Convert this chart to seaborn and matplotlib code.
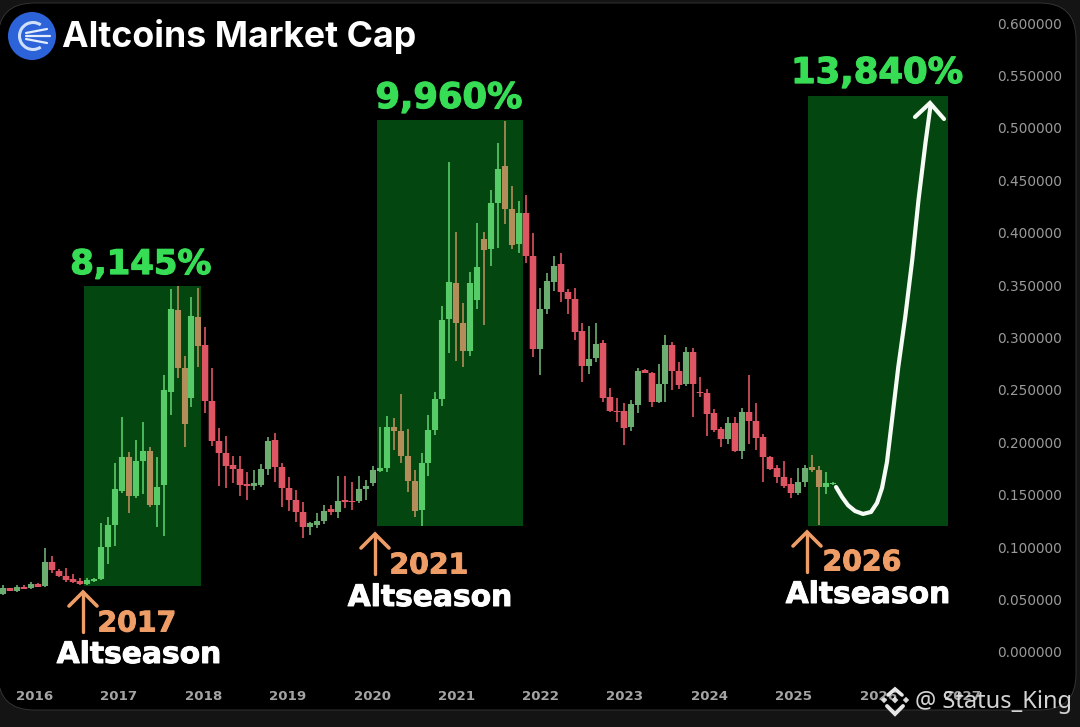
import numpy as np
import pandas as pd
import matplotlib
matplotlib.use("Agg")
import matplotlib.pyplot as plt
import matplotlib.patheffects as pe
from matplotlib.patches import Rectangle, Circle, FancyBboxPatch, Polygon, Arc
import seaborn as sns

# ---- data ----
opens = [
 .0553,.0607,.0582,.0623,.0607,.0652,.0630,.0855,.0776,.0728,
 .0693,.0677,.0649,.0677,.0693,.1005,.1212,.1539,.1863,.1488,
 .1822,.1921,.1402,.1593,.2484,.3263,.2706,.2420,.3199,.2929,
 .2395,.2013,.1895,.1784,.1743,.1600,.1584,.1593,.1743,.2022,
 .1768,.1561,.1450,.1339,.1189,.1215,.1253,.1367,.1336,.1450,
 .1441,.1441,.1555,.1615,.1727,.1752,.2150,.2112,.1873,.1631,
 .1355,.1800,.2118,.2414,.3174,.3517,.3135,.2872,.3358,.3937,
 .3845,.4287,.4636,.4229,.3889,.4191,.3778,.2894,.3269,.3533,
 .3698,.3431,.3368,.3062,.2732,.2802,.2945,.2430,.2302,.2302,
 .2143,.2356,.2690,.2665,.2388,.2557,.2932,.2684,.2557,.2859,
 .2477,.2474,.2277,.2124,.2032,.2188,.1921,.2293,.2207,.2054,
 .1863,.1752,.1673,.1600,.1514,.1625,.1762,.1736,.1577,.1606]
closes = [
 .0607,.0585,.0623,.0604,.0652,.0623,.0855,.0782,.0728,.0687,
 .0671,.0646,.0687,.0700,.0999,.1212,.1552,.1863,.1488,.1822,
 .1921,.1402,.1577,.2499,.3269,.2706,.2172,.3205,.2919,.2395,
 .2013,.1895,.1774,.1743,.1593,.1587,.1609,.1743,.2016,.1768,
 .1561,.1450,.1339,.1196,.1227,.1253,.1348,.1339,.1437,.1428,
 .1431,.1555,.1587,.1736,.1759,.2150,.2108,.1873,.1631,.1345,
 .1800,.2118,.2414,.3167,.3527,.3135,.2872,.3517,.3676,.3835,
 .4280,.4608,.4229,.3883,.4191,.3781,.2887,.3269,.3539,.3686,
 .3438,.3364,.3056,.2732,.2795,.2935,.2420,.2299,.2290,.2134,
 .2363,.2684,.2665,.2388,.2557,.2932,.2681,.2547,.2859,.2554,
 .2468,.2271,.2118,.2032,.2181,.1921,.2286,.2207,.2045,.1857,
 .1746,.1673,.1587,.1514,.1622,.1759,.1733,.1571,.1615,.1612]
highs = [
 .0639,.0614,.0636,.0639,.0668,.0661,.0995,.0916,.0789,.0798,
 .0744,.0703,.0703,.0706,.1227,.1285,.1806,.2239,.1911,.2022,
 .2197,.1959,.1863,.2643,.3460,.3492,.2824,.3384,.3476,.3097,
 .2706,.2134,.2061,.1870,.1870,.1720,.1736,.1790,.2054,.2086,
 .1806,.1666,.1545,.1434,.1243,.1323,.1402,.1399,.1682,.1679,
 .1619,.1679,.1641,.1774,.2150,.2251,.2229,.2461,.2124,.1736,
 .1895,.2261,.2484,.3304,.4678,.4010,.3326,.3628,.4089,.4004,
 .4407,.4859,.5069,.4449,.4303,.4360,.3994,.3469,.3612,.3781,
 .3810,.3463,.3476,.3135,.3110,.3142,.2976,.2515,.2420,.2372,
 .2404,.2706,.2697,.2674,.2748,.3024,.2961,.2770,.2913,.2897,
 .2620,.2506,.2318,.2150,.2239,.2239,.2325,.2643,.2372,.2077,
 .1870,.1784,.1825,.1657,.1752,.1784,.1879,.1774,.1714,.1625]
lows = [
 .0544,.0579,.0576,.0598,.0598,.0617,.0623,.0750,.0719,.0671,
 .0661,.0636,.0639,.0671,.0687,.0836,.1014,.1514,.1323,.1472,
 .1507,.1386,.1189,.1110,.2261,.2611,.1953,.2334,.2722,.2277,
 .1968,.1587,.1561,.1609,.1488,.1450,.1545,.1577,.1689,.1625,
 .1380,.1348,.1243,.1091,.1116,.1180,.1221,.1307,.1282,.1371,
 .1355,.1418,.1450,.1584,.1720,.1720,.1927,.1800,.1530,.1285,
 .1205,.1679,.2070,.2350,.2856,.2779,.2716,.2824,.3269,.3120,
 .3686,.3851,.4083,.3841,.3810,.3708,.2817,.2643,.3225,.3447,
 .3342,.3225,.2976,.2579,.2652,.2763,.2388,.2293,.2197,.1975,
 .2112,.2277,.2658,.2334,.2372,.2388,.2499,.2509,.2541,.2239,
 .2430,.2061,.2102,.1959,.1984,.1911,.1841,.1984,.1927,.1625,
 .1736,.1609,.1561,.1472,.1498,.1577,.1720,.1212,.1507,.1593]

year_labels = ["2016","2017","2018","2019","2020","2021","2022","2023","2024","2025","2026","2027"]
year_positions = [4.5,16.6,28.7,40.8,52.9,65.0,77.1,89.2,101.3,113.4,125.5,137.6]
price_ticks = [0.0,0.05,0.10,0.15,0.20,0.25,0.30,0.35,0.40,0.45,0.50,0.55,0.60]

zone_starts = [11.58,53.6,115.45]
zone_ends   = [28.36,74.56,135.5]
zone_lows   = [.0630,.1202,.1202]
zone_highs  = [.3492,.5076,.5305]
gain_labels = ["8,145%","9,960%","13,840%"]
season_labels = ["2017","2021","2026"]

proj_x = [119.47,120.33,121.19,122.19,123.34,124.49,125.35,126.07,126.78,127.5,128.4,129.4,130.4,131.3,132.3,133.0]
proj_y = [.1574,.1479,.1400,.1345,.1317,.1336,.1422,.1565,.1813,.2214,.2719,.3197,.3740,.4313,.4857,.5200]

W, H = 1080, 727
sns.set_theme(style="dark", rc={"axes.grid": False})
plt.rcParams["font.family"] = ["DejaVu Sans"]
fig = plt.figure(figsize=(W/100, H/100), dpi=100, facecolor="#141414")

# rounded dark panel behind the chart
bg = fig.add_axes([0, 0, 1, 1], zorder=-1)
bg.set_xlim(0, W); bg.set_ylim(H, 0); bg.axis("off")
bg.add_patch(FancyBboxPatch((-2, 3), 1078, 707, boxstyle="round,pad=0,rounding_size=36",
                            fc="#000000", ec="#3a3a3a", lw=0.6))

ax = fig.add_axes([0, 0, 1, 1], zorder=1)
ax.patch.set_alpha(0)
for s in ax.spines.values():
    s.set_visible(False)

# scales: one candle per month
ax.set_xlim(-0.473, 154.47)
ax.set_ylim(-0.0716, 0.6221)

for x0, x1, y0, y1 in zip(zone_starts, zone_ends, zone_lows, zone_highs):
    ax.add_patch(Rectangle((x0, y0), x1-x0, y1-y0, fc="#04460f", ec="none", zorder=0.5))

TONES = {"up_zone": "#57cb68", "down_zone": "#b48e5a", "up": "#6cae72", "down": "#de5563"}
def tone(i):
    inzone = any(a <= i <= b for a, b in zip(zone_starts, zone_ends))
    rising = closes[i] >= opens[i]
    return ("up" if rising else "down") + ("_zone" if inzone else "")

wick_rows, body_rows = [], []
for i in range(len(opens)):
    t = tone(i)
    wick_rows += [(i, highs[i], i, t), (i, lows[i], i, t)]
    body_rows += [(i, opens[i], i, t), (i, closes[i], i, t)]
cols = ["month", "price", "candle", "tone"]
wicks = pd.DataFrame(wick_rows, columns=cols)
bodies = pd.DataFrame(body_rows, columns=cols)

common = dict(x="month", y="price", hue="tone", palette=TONES, units="candle",
              estimator=None, legend=False, ax=ax, solid_capstyle="butt")
# soft red halo around falling candles
sns.lineplot(data=bodies[bodies["tone"] == "down"], linewidth=6.0, alpha=0.28, zorder=1.5, **common)
sns.lineplot(data=wicks, linewidth=1.2, zorder=2, **common)
sns.lineplot(data=bodies, linewidth=4.4, zorder=3, **common)

sns.lineplot(x=proj_x, y=proj_y, color="#f6fbf6", linewidth=3.0, estimator=None, sort=False,
             ax=ax, zorder=4, solid_capstyle="round", legend=False)

ax.set_xlabel(""); ax.set_ylabel("")
ax.set_xticks(year_positions)
ax.set_xticklabels(year_labels, fontweight="bold", fontsize=9.6, color="#a4a4a4")
ax.tick_params(axis="x", length=0, pad=-27, bottom=True)
ax.yaxis.tick_right()
ax.set_yticks(price_ticks)
ax.set_yticklabels([f"{v:.6f}" for v in price_ticks], fontsize=9.8, color="#9a9a9a")
ax.tick_params(axis="y", length=0, pad=-60)
ax.grid(False)

# annotation layer, in image pixels
ov = fig.add_axes([0, 0, 1, 1], zorder=5)
ov.set_xlim(0, W); ov.set_ylim(H, 0); ov.axis("off"); ov.patch.set_alpha(0)

GREEN, ORANGE = "#37dd55", "#ee9d66"
def heavy(col, w=0.9):
    return [pe.withStroke(linewidth=w, foreground=col)]

for (cx, cy, fs), s in zip([(141, 264.5, 24.4), (449, 98, 25.4), (877, 73, 25.5)], gain_labels):
    ov.text(cx, cy, s, ha="center", va="center", fontsize=fs, fontweight="bold", color=GREEN,
            path_effects=heavy(GREEN))

for (ax0, ytop, ybot, nx, ny, sx, sy), s in zip(
        [(83, 592, 632, 137, 623.5, 139, 654.5),
         (375, 534, 574, 429, 565.5, 430, 597.5),
         (807, 532, 572, 862, 562.5, 868, 594.5)], season_labels):
    ov.plot([ax0, ax0], [ytop, ybot], color=ORANGE, lw=2.4, solid_capstyle="round")
    ov.plot([ax0-14, ax0, ax0+14], [ytop+14, ytop, ytop+14], color=ORANGE, lw=2.6,
            solid_capstyle="round", solid_joinstyle="miter")
    ov.text(nx, ny, s, ha="center", va="center", fontsize=20.4, fontweight="bold", color=ORANGE,
            path_effects=heavy(ORANGE, 0.7))
    ov.text(sx, sy, "Altseason", ha="center", va="center", fontsize=21.4, fontweight="bold",
            color="white", path_effects=heavy("white", 0.7))

# projected arrow head
ov.plot([915, 930, 944], [117, 103, 119], color="#f6fbf6", lw=3.0,
        solid_capstyle="round", solid_joinstyle="miter")

# title and logo
ov.add_patch(Circle((32, 36), 24, fc="#2d63d8", ec="none"))
ov.add_patch(Arc((33, 36), 27, 27, theta1=55, theta2=305, color="#cfe0fb", lw=2.2))
for dy0, dy1, x1 in [(-3, -7, 47), (0, 0, 50), (3, 7, 47)]:
    ov.plot([26, x1], [36+dy0, 36+dy1], color="#e4eefc", lw=1.6, solid_capstyle="round")
ov.text(62, 37, "Altcoins Market Cap", ha="left", va="center", fontsize=25.7,
        fontweight="bold", color="white", family="Inter")

# watermark
wm = "#e6e6e6"
for cx, cy, r in [(884, 700, 3.2), (906, 700, 3.2), (895, 700, 3.4)]:
    ov.add_patch(Polygon([(cx, cy-r), (cx+r, cy), (cx, cy+r), (cx-r, cy)], fc=wm, ec="none", alpha=0.95))
ov.plot([888, 895, 902], [695, 689, 695], color=wm, lw=2.6, solid_joinstyle="miter")
ov.plot([887, 895, 903], [706, 714, 706], color=wm, lw=2.8, solid_joinstyle="miter")
ov.text(915, 702, "@ Status_King", ha="left", va="center", fontsize=17.0, color=wm,
        family="Noto Sans", alpha=0.92)

fig.savefig("out.png", dpi=100, facecolor=fig.get_facecolor())
